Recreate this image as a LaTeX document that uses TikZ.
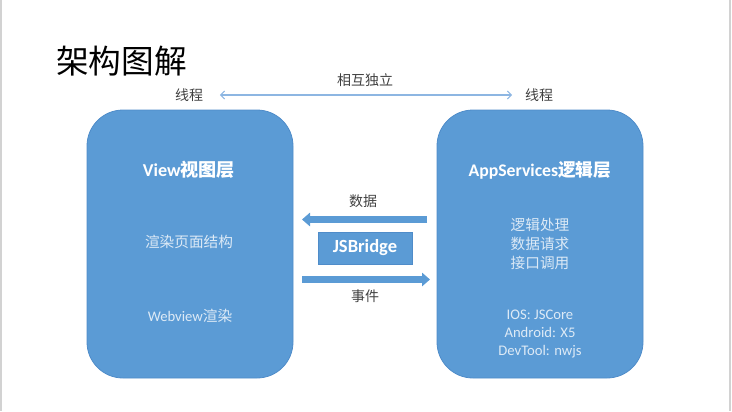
\documentclass[tikz,border=0pt]{standalone}
\usepackage{fontspec}
\setmainfont{Carlito}
\newfontfamily\cjk{Noto Sans CJK SC}
\usetikzlibrary{arrows.meta}
\definecolor{layerblue}{HTML}{5B9BD5}
\definecolor{layerline}{HTML}{4F8CC9}
\definecolor{softwhite}{HTML}{DDEAF6}
\definecolor{linkblue}{HTML}{8DB6E2}
\definecolor{labelgray}{HTML}{404040}
\begin{document}
\begin{tikzpicture}[x=0.75pt,y=-0.75pt]
\tikzstyle{every node}+=[inner sep=0pt]
\tikzstyle{layer}=[draw=layerline, line width=0.6pt, fill=layerblue, rounded corners=27pt, minimum width=154.5pt, minimum height=201pt]
\tikzstyle{head}=[text=white, font=\fontsize{13.6}{16}\selectfont\bfseries]
\tikzstyle{body}=[text=softwhite, font=\fontsize{11}{14}\selectfont, align=center]
\tikzstyle{note}=[text=labelgray, font=\cjk\fontsize{10.5}{12}\selectfont]
\tikzstyle{flow}=[layerblue, line width=5.25pt, -{Triangle[length=6pt, width=10pt]}]
\useasboundingbox (0,0) rectangle (732,411);
\draw [gray!35, line width=0.8pt] (1,0) -- (1,411);
\draw [gray!35, line width=0.8pt] (730,0) -- (730,411);
% title
\node (title) [anchor=west, text=black, font=\cjk\fontsize{24.5}{28}\selectfont] at (56,61) {架构图解};
% threads
\node (threadL) [note] at (189,95) {线程};
\node (threadR) [note] at (539,95) {线程};
\node (apart) [note] at (365,80) {相互独立};
\draw [linkblue, line width=0.8pt, {Straight Barb[length=3pt, width=6pt]}-{Straight Barb[length=3pt, width=6pt]}, shorten <=12.5pt, shorten >=9.5pt] (threadL.east) -- (threadR.west);
% layers
\node (view) [layer] at (190,244) {};
\node (logic) [layer] at (540,244) {};
\node (viewHead) [head] at (189,170) {View{\cjk 视图层}};
\node (viewRender) [body] at (189,242) {\cjk 渲染页面结构};
\node (viewWeb) [body] at (190,316) {Webview{\cjk 渲染}};
\node (logicHead) [head, font=\fontsize{13.3}{16}\selectfont\bfseries] at (540,170) {AppServices{\cjk 逻辑层}};
\node (logicJobs) [body, font=\cjk\fontsize{11}{14}\selectfont] at (540,244) {逻辑处理\\数据请求\\接口调用};
\node (logicHost) [body, font=\fontsize{11}{13.6}\selectfont] at (540,334) {IOS: JSCore\\Android: X5\\DevTool: nwjs};
% bridge
\node (bridge) [fill=layerblue, draw=layerline, line width=0.6pt, minimum width=70.5pt, minimum height=24pt, head, font=\fontsize{13.9}{16}\selectfont\bfseries] at (365,248) {JSBridge};
\node (dataLabel) [note] at (363,201) {数据};
\node (eventLabel) [note] at (365,296) {事件};
\coordinate (dataTail) at (427,219.5);
\coordinate (dataTip) at (302,219.5);
\coordinate (eventTail) at (302,279.5);
\coordinate (eventTip) at (430,279.5);
\draw [flow] (dataTail) -- (dataTip);
\draw [flow] (eventTail) -- (eventTip);
\end{tikzpicture}
\end{document}
